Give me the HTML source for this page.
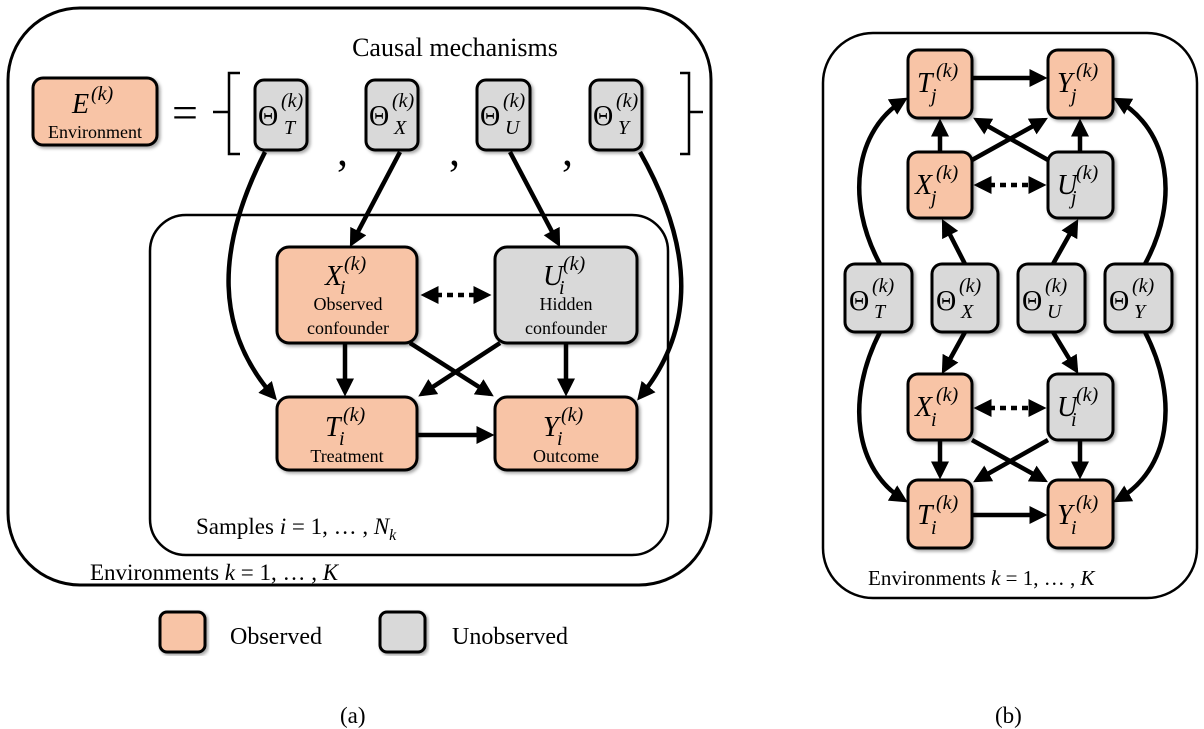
<!DOCTYPE html>
<html><head><meta charset="utf-8"><style>
html,body{margin:0;padding:0;background:#fff;}
svg{display:block;font-family:"Liberation Serif",serif;}
.p{fill:#f8c4a6;stroke:#000;stroke-width:3;}
.g{fill:#d9d9d9;stroke:#000;stroke-width:3;}
.a{stroke:#000;stroke-width:4.5;fill:none;marker-end:url(#ah);}
.d{stroke:#000;stroke-width:4.5;fill:none;stroke-dasharray:6 5;marker-end:url(#ah);marker-start:url(#as);}
.m{font-style:italic;font-size:28px;}
.s{font-style:italic;font-size:20px;}
.th{font-size:28px;}
.t{font-size:18px;text-anchor:middle;}
</style></head><body>
<svg width="1204" height="729" viewBox="0 0 1204 729">
<defs>
<marker id="ah" markerWidth="4" markerHeight="4" refX="3" refY="2" orient="auto" markerUnits="strokeWidth"><path d="M0,0 L4,2 L0,4 z"/></marker>
<marker id="as" markerWidth="4" markerHeight="4" refX="1" refY="2" orient="auto" markerUnits="strokeWidth"><path d="M4,0 L0,2 L4,4 z"/></marker>
<filter id="sh"><feDropShadow dx="2" dy="2" stdDeviation="1.5" flood-opacity="0.35"/></filter>
</defs>

<!-- Panel (a) -->
<rect x="8" y="8" width="703" height="577" rx="72" fill="none" stroke="#000" stroke-width="3"/>
<rect x="150" y="215" width="518" height="340" rx="36" fill="none" stroke="#000" stroke-width="2.5"/>
<text x="455" y="56" font-size="26" text-anchor="middle">Causal mechanisms</text>

<rect x="33" y="78" width="124" height="67" rx="10" class="p" filter="url(#sh)"/>
<text x="72" y="113" class="m">E</text><text x="91" y="100" class="s">(k)</text>
<text x="95" y="138" class="t">Environment</text>

<text x="172" y="128" font-size="46">=</text>
<path d="M213,112 H229 M240,73 H229 V154 H240" stroke="#000" stroke-width="2.5" fill="none"/>
<path d="M680,73 H689 V154 H680 M689,112 H703" stroke="#000" stroke-width="2.5" fill="none"/>

<g filter="url(#sh)">
<rect x="255" y="80" width="52" height="70" rx="9" class="g"/>
<rect x="366" y="80" width="52" height="70" rx="9" class="g"/>
<rect x="477" y="80" width="53" height="70" rx="9" class="g"/>
<rect x="590" y="80" width="52" height="70" rx="9" class="g"/>
</g>
<text x="258" y="125" class="th">Θ</text><text x="281" y="107" class="s">(k)</text><text x="284" y="134" class="s">T</text>
<text x="369" y="125" class="th">Θ</text><text x="392" y="107" class="s">(k)</text><text x="394" y="134" class="s">X</text>
<text x="480" y="125" class="th">Θ</text><text x="503" y="107" class="s">(k)</text><text x="505" y="134" class="s">U</text>
<text x="593" y="125" class="th">Θ</text><text x="616" y="107" class="s">(k)</text><text x="618" y="134" class="s">Y</text>
<text x="337" y="165" font-size="44">,</text>
<text x="449" y="165" font-size="44">,</text>
<text x="562" y="165" font-size="44">,</text>

<g filter="url(#sh)">
<rect x="277" y="247" width="140" height="96" rx="12" class="p"/>
<rect x="495" y="247" width="142" height="96" rx="12" class="g"/>
<rect x="277" y="397" width="140" height="73" rx="12" class="p"/>
<rect x="495" y="397" width="142" height="73" rx="12" class="p"/>
</g>
<text x="325" y="285" class="m">X</text><text x="344" y="270" class="s">(k)</text><text x="340" y="294" class="s">i</text>
<text x="348" y="310" class="t">Observed</text><text x="348" y="334" class="t">confounder</text>
<text x="543" y="285" class="m">U</text><text x="563" y="270" class="s">(k)</text><text x="559" y="294" class="s">i</text>
<text x="566" y="310" class="t">Hidden</text><text x="566" y="334" class="t">confounder</text>
<text x="325" y="436" class="m">T</text><text x="343" y="421" class="s">(k)</text><text x="339" y="445" class="s">i</text>
<text x="347" y="462" class="t">Treatment</text>
<text x="543" y="436" class="m">Y</text><text x="561" y="421" class="s">(k)</text><text x="557" y="445" class="s">i</text>
<text x="566" y="462" class="t">Outcome</text>

<path class="a" d="M400,152 L352,243"/>
<path class="a" d="M510,152 L558,243"/>
<path class="a" d="M265,152 C215,250 215,330 274,397"/>
<path class="a" d="M640,152 C695,250 695,330 640,397"/>
<path class="a" d="M345,343 V392"/>
<path class="a" d="M566,343 V392"/>
<path class="a" d="M410,343 L490,394"/>
<path class="a" d="M500,343 L422,394"/>
<path class="a" d="M417,435 H490"/>
<path class="d" d="M425,295 H487"/>

<text x="196" y="534" font-size="23">Samples <tspan font-style="italic">i</tspan> = 1, … , <tspan font-style="italic">N</tspan><tspan font-style="italic" font-size="16" dy="6">k</tspan></text>
<text x="90" y="580" font-size="23">Environments <tspan font-style="italic">k</tspan> = 1, … , <tspan font-style="italic">K</tspan></text>

<rect x="160" y="612" width="45" height="40" rx="7" class="p" filter="url(#sh)"/>
<text x="230" y="644" font-size="24">Observed</text>
<rect x="380" y="612" width="45" height="40" rx="7" class="g" filter="url(#sh)"/>
<text x="452" y="644" font-size="24">Unobserved</text>
<text x="340" y="723" font-size="23">(a)</text>

<!-- Panel (b) -->
<rect x="823" y="33" width="374" height="565" rx="50" fill="none" stroke="#000" stroke-width="2.5"/>
<g filter="url(#sh)">
<rect x="908" y="50" width="64" height="68" rx="10" class="p"/>
<rect x="1048" y="50" width="65" height="68" rx="10" class="p"/>
<rect x="908" y="152" width="64" height="66" rx="10" class="p"/>
<rect x="1048" y="152" width="65" height="66" rx="10" class="g"/>
<rect x="845" y="264" width="67" height="68" rx="10" class="g"/>
<rect x="932" y="264" width="66" height="68" rx="10" class="g"/>
<rect x="1018" y="264" width="67" height="68" rx="10" class="g"/>
<rect x="1105" y="264" width="67" height="68" rx="10" class="g"/>
<rect x="908" y="374" width="64" height="66" rx="10" class="p"/>
<rect x="1048" y="374" width="65" height="66" rx="10" class="g"/>
<rect x="908" y="480" width="64" height="68" rx="10" class="p"/>
<rect x="1048" y="480" width="65" height="68" rx="10" class="p"/>
</g>
<text x="917" y="92" class="m">T</text><text x="936" y="77" class="s">(k)</text><text x="931" y="102" class="s">j</text>
<text x="1057" y="92" class="m">Y</text><text x="1076" y="77" class="s">(k)</text><text x="1071" y="102" class="s">j</text>
<text x="915" y="194" class="m">X</text><text x="936" y="179" class="s">(k)</text><text x="931" y="204" class="s">j</text>
<text x="1057" y="194" class="m">U</text><text x="1076" y="179" class="s">(k)</text><text x="1071" y="204" class="s">j</text>
<text x="915" y="416" class="m">X</text><text x="936" y="401" class="s">(k)</text><text x="931" y="426" class="s">i</text>
<text x="1057" y="416" class="m">U</text><text x="1076" y="401" class="s">(k)</text><text x="1071" y="426" class="s">i</text>
<text x="917" y="524" class="m">T</text><text x="936" y="509" class="s">(k)</text><text x="931" y="534" class="s">i</text>
<text x="1057" y="524" class="m">Y</text><text x="1076" y="509" class="s">(k)</text><text x="1071" y="534" class="s">i</text>

<text x="849" y="310" class="th">Θ</text><text x="872" y="292" class="s">(k)</text><text x="874" y="318" class="s">T</text>
<text x="936" y="310" class="th">Θ</text><text x="959" y="292" class="s">(k)</text><text x="961" y="318" class="s">X</text>
<text x="1022" y="310" class="th">Θ</text><text x="1045" y="292" class="s">(k)</text><text x="1047" y="318" class="s">U</text>
<text x="1109" y="310" class="th">Θ</text><text x="1132" y="292" class="s">(k)</text><text x="1134" y="318" class="s">Y</text>

<path class="a" d="M972,78 H1043"/>
<path class="a" d="M940,152 V123"/>
<path class="a" d="M1080,152 V123"/>
<path class="a" d="M972,160 L1044,120"/>
<path class="a" d="M1048,160 L977,120"/>
<path class="d" d="M978,185 H1042"/>
<path class="a" d="M965,264 L944,223"/>
<path class="a" d="M1053,264 L1076,223"/>
<path class="a" d="M880,264 C845,200 855,130 904,100"/>
<path class="a" d="M1145,264 C1180,200 1170,130 1117,100"/>

<path class="a" d="M965,332 L944,370"/>
<path class="a" d="M1053,332 L1076,370"/>
<path class="a" d="M880,332 C845,400 855,470 904,500"/>
<path class="a" d="M1145,332 C1180,400 1170,470 1117,500"/>
<path class="d" d="M978,408 H1042"/>
<path class="a" d="M940,440 V475"/>
<path class="a" d="M1080,440 V475"/>
<path class="a" d="M972,440 L1044,480"/>
<path class="a" d="M1048,440 L977,480"/>
<path class="a" d="M972,515 H1043"/>

<text x="868" y="585" font-size="21">Environments <tspan font-style="italic">k</tspan> = 1, … , <tspan font-style="italic">K</tspan></text>
<text x="995" y="723" font-size="23">(b)</text>
</svg>
</body></html>
